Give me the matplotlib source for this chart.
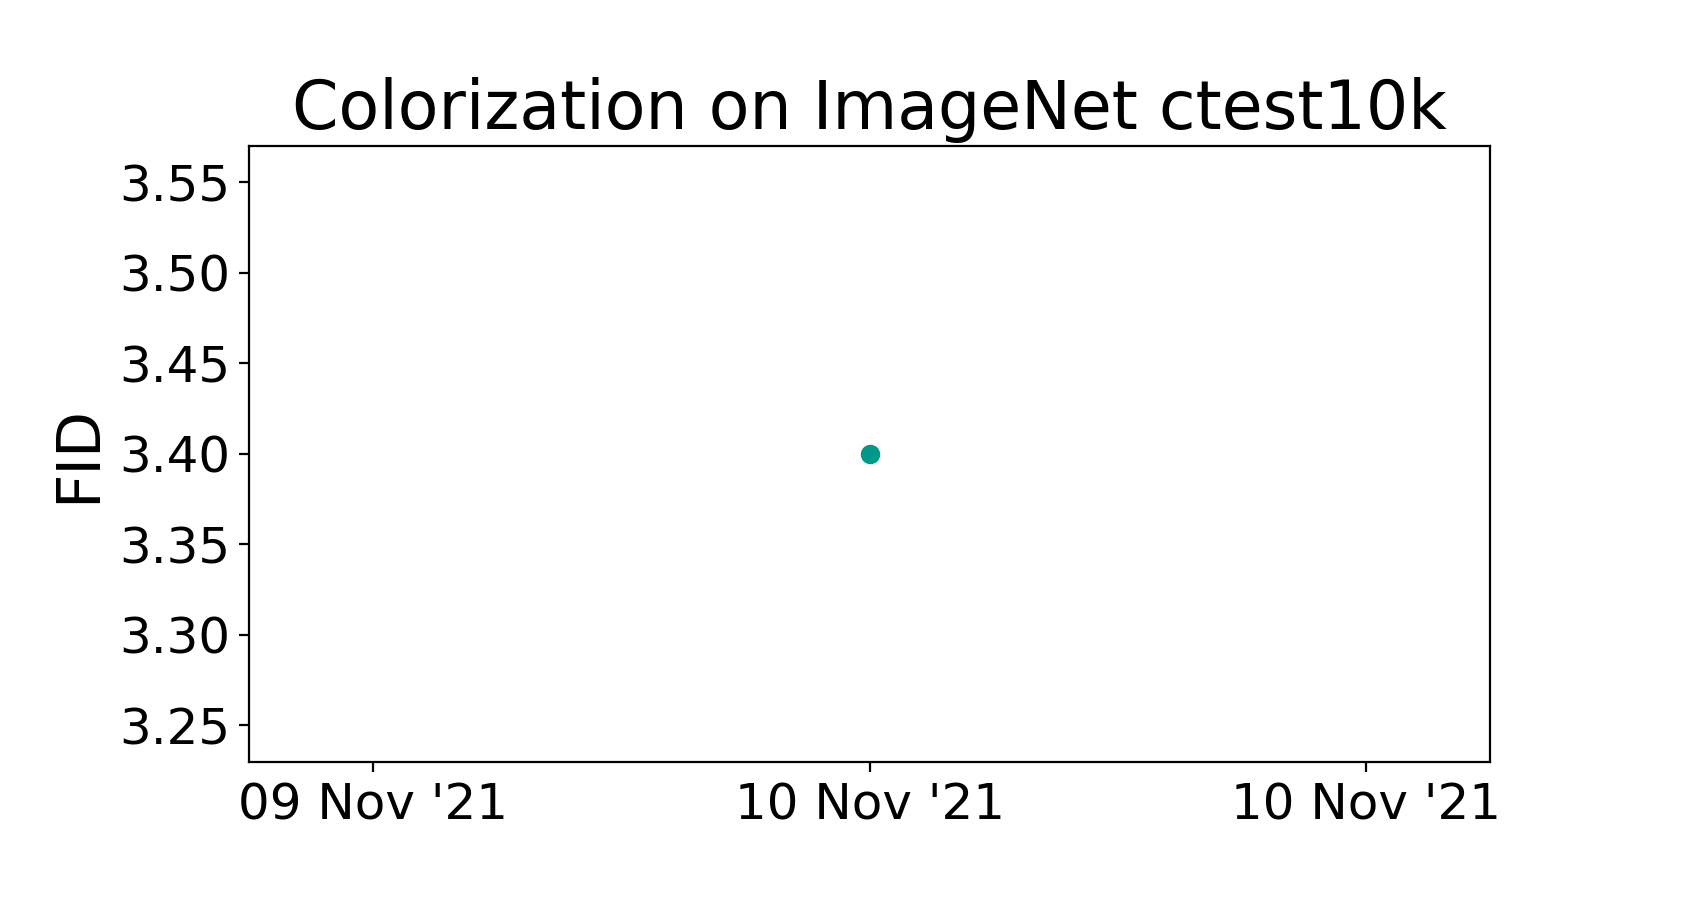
import datetime as dt

import matplotlib as mpl
mpl.use('Agg')

import matplotlib.pyplot as pl
import matplotlib.dates as mdates

# data
dates = [dt.datetime(2021, 11, 10)]
fid = [3.40]
tick_dates = [dt.datetime(2021, 11, 9, 12), dt.datetime(2021, 11, 10), dt.datetime(2021, 11, 10, 12)]
x_lim = [dt.datetime(2021, 11, 9, 9), dt.datetime(2021, 11, 10, 15)]
y_lim = [3.23, 3.57]
y_ticks = [3.25, 3.30, 3.35, 3.40, 3.45, 3.50, 3.55]

str_title = "Colorization on ImageNet ctest10k"


def main():
    fig = pl.figure(figsize=(8.5, 4.5), dpi=200)
    ax = fig.add_axes([0.1467, 0.1537, 0.8765 - 0.1467, 0.8378 - 0.1537])

    ax.plot(dates, fid, 'o', color='#009988', markersize=6)

    ax.set_xlim(x_lim)
    ax.set_xticks(tick_dates)
    ax.xaxis.set_major_formatter(mdates.DateFormatter("%d %b '%y"))
    ax.set_ylim(y_lim)
    ax.set_yticks(y_ticks)
    ax.yaxis.set_major_formatter(mpl.ticker.FormatStrFormatter('%.2f'))

    ax.tick_params(labelsize=18)
    ax.set_ylabel('FID', fontsize=21.5)
    ax.set_title(str_title, fontsize=24)

    fig.savefig('out.png', dpi=200)
    pl.close(fig)


if __name__ == "__main__":
    main()
